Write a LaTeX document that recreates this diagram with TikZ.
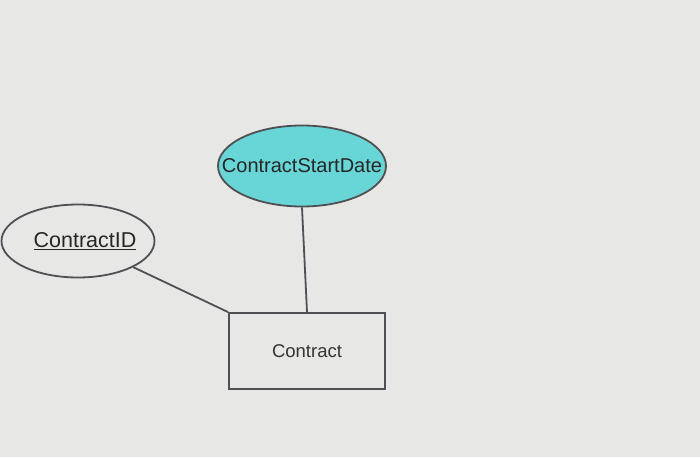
\documentclass[tikz,border=0pt]{standalone}
\usepackage{fontspec}
\setmainfont{Liberation Sans}
\usetikzlibrary{shapes.geometric}
\definecolor{attrcyan}{RGB}{104,214,214}
\definecolor{screengray}{RGB}{231,231,229}
\definecolor{edgegray}{RGB}{80,80,84}
\begin{document}
\begin{tikzpicture}[x=1pt,y=-1pt]
        \tikzset{attr/.style={draw=edgegray,ellipse,line width=1.8pt,inner sep=0pt},
            attrtext/.style={font=\fontsize{20}{24}\selectfont,text=black!85},
            entity/.style={draw=edgegray,rectangle,line width=1.8pt,
                minimum width=156pt,minimum height=76pt,
                font=\fontsize{18.5}{22}\selectfont,text=black!80},
            link/.style={draw=edgegray,line width=1.8pt}}
        \fill[screengray] (0,0) rectangle (700,457);
        \useasboundingbox (0,0) rectangle (700,457);
        % entity and its attributes
        \node[entity] (contract) at (307,351) {Contract};
        \node[attr,fill=attrcyan,minimum width=168pt,minimum height=81pt,
            label={[attrtext]center:ContractStartDate}] (startdate) at (302,166) {};
        \node[attr,minimum width=153pt,minimum height=73pt,
            label={[attrtext,font=\fontsize{21.5}{24}\selectfont,xshift=7pt]center:\underline{ContractID}}] (contractid) at (78,241) {};
        \draw[link] (startdate.south) -- (contract.north);
        \draw[link] (contractid) -- (contract.north west);
    \end{tikzpicture}
\end{document}
